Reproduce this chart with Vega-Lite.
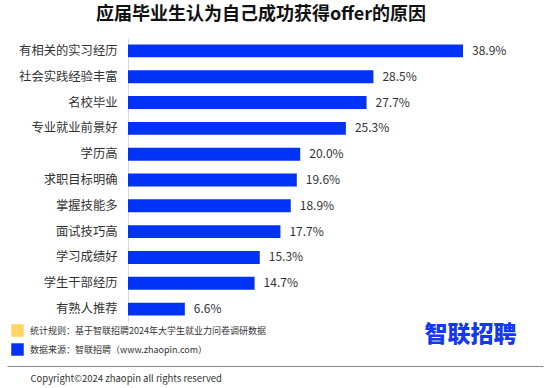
{
  "$schema": "https://vega.github.io/schema/vega-lite/v6.json",
  "autosize": {"type": "none"},
  "width": 536,
  "height": 284,
  "padding": {"left": 7, "top": 38, "right": 11, "bottom": 66},
  "background": "white",
  "title": {
    "text": "应届毕业生认为自己成功获得offer的原因",
    "font": "Noto Sans CJK SC",
    "fontSize": 18,
    "fontWeight": "bold",
    "color": "#111111",
    "anchor": "middle",
    "dx": -14,
    "offset": 14
  },
  "data": {
    "values": [
      {"原因": "有相关的实习经历", "占比": 0.389, "图例": "数据来源"},
      {"原因": "社会实践经验丰富", "占比": 0.285, "图例": "数据来源"},
      {"原因": "名校毕业", "占比": 0.277, "图例": "数据来源"},
      {"原因": "专业就业前景好", "占比": 0.253, "图例": "数据来源"},
      {"原因": "学历高", "占比": 0.200, "图例": "数据来源"},
      {"原因": "求职目标明确", "占比": 0.196, "图例": "数据来源"},
      {"原因": "掌握技能多", "占比": 0.189, "图例": "数据来源"},
      {"原因": "面试技巧高", "占比": 0.177, "图例": "数据来源"},
      {"原因": "学习成绩好", "占比": 0.153, "图例": "数据来源"},
      {"原因": "学生干部经历", "占比": 0.147, "图例": "数据来源"},
      {"原因": "有熟人推荐", "占比": 0.066, "图例": "数据来源"}
    ]
  },
  "encoding": {
    "y": {
      "field": "原因",
      "type": "nominal",
      "sort": null,
      "scale": {"paddingInner": 0.5, "paddingOuter": 0.25},
      "axis": {
        "offset": -121,
        "ticks": false,
        "labelPadding": 11,
        "labelFont": "Noto Sans CJK SC",
        "labelFontSize": 12.3,
        "labelColor": "#333333",
        "domainColor": "#d9d9d9",
        "domainWidth": 1,
        "title": "智联招聘",
        "titleAngle": 0,
        "titleX": 342,
        "titleY": 296,
        "titleAlign": "center",
        "titleBaseline": "middle",
        "titleFont": "Noto Sans CJK SC",
        "titleFontSize": 23,
        "titleFontWeight": 900,
        "titleColor": "#1238F0"
      }
    },
    "x": {
      "field": "占比",
      "type": "quantitative",
      "scale": {"domain": [-0.1405, 0.4819], "nice": false, "zero": false},
      "axis": {
        "offset": 44,
        "labels": false,
        "ticks": false,
        "grid": false,
        "domainColor": "#888888",
        "domainWidth": 1,
        "title": "Copyright©2024 zhaopin all rights reserved",
        "titleX": 23,
        "titleY": 12,
        "titleAlign": "left",
        "titleBaseline": "middle",
        "titleFont": "Noto Sans CJK SC",
        "titleFontSize": 9.5,
        "titleFontWeight": "normal",
        "titleColor": "#333333"
      }
    }
  },
  "layer": [
    {
      "mark": {"type": "bar"},
      "encoding": {
        "x2": {"datum": 0},
        "color": {
          "field": "图例",
          "type": "nominal",
          "scale": {"domain": ["统计规则", "数据来源"], "range": ["#FFD466", "#0033F5"]},
          "legend": {
            "orient": "none",
            "legendX": 4,
            "legendY": 286,
            "title": null,
            "padding": 0,
            "symbolType": "square",
            "symbolSize": 156,
            "symbolStrokeWidth": 0,
            "symbolOpacity": 1,
            "rowPadding": 6,
            "labelOffset": 6,
            "labelFont": "Noto Sans CJK SC",
            "labelFontSize": 9,
            "labelColor": "#333333",
            "labelLimit": 400,
            "labelExpr": "datum.label == '统计规则' ? '统计规则：基于智联招聘2024年大学生就业力问卷调研数据' : '数据来源：智联招聘（www.zhaopin.com）'"
          }
        }
      }
    },
    {
      "mark": {
        "type": "text",
        "align": "left",
        "baseline": "middle",
        "dx": 9,
        "font": "Noto Sans CJK SC",
        "fontSize": 12,
        "color": "#333333"
      },
      "encoding": {
        "text": {"field": "占比", "type": "quantitative", "format": ".1%"}
      }
    }
  ],
  "config": {
    "view": {"stroke": null}
  }
}
